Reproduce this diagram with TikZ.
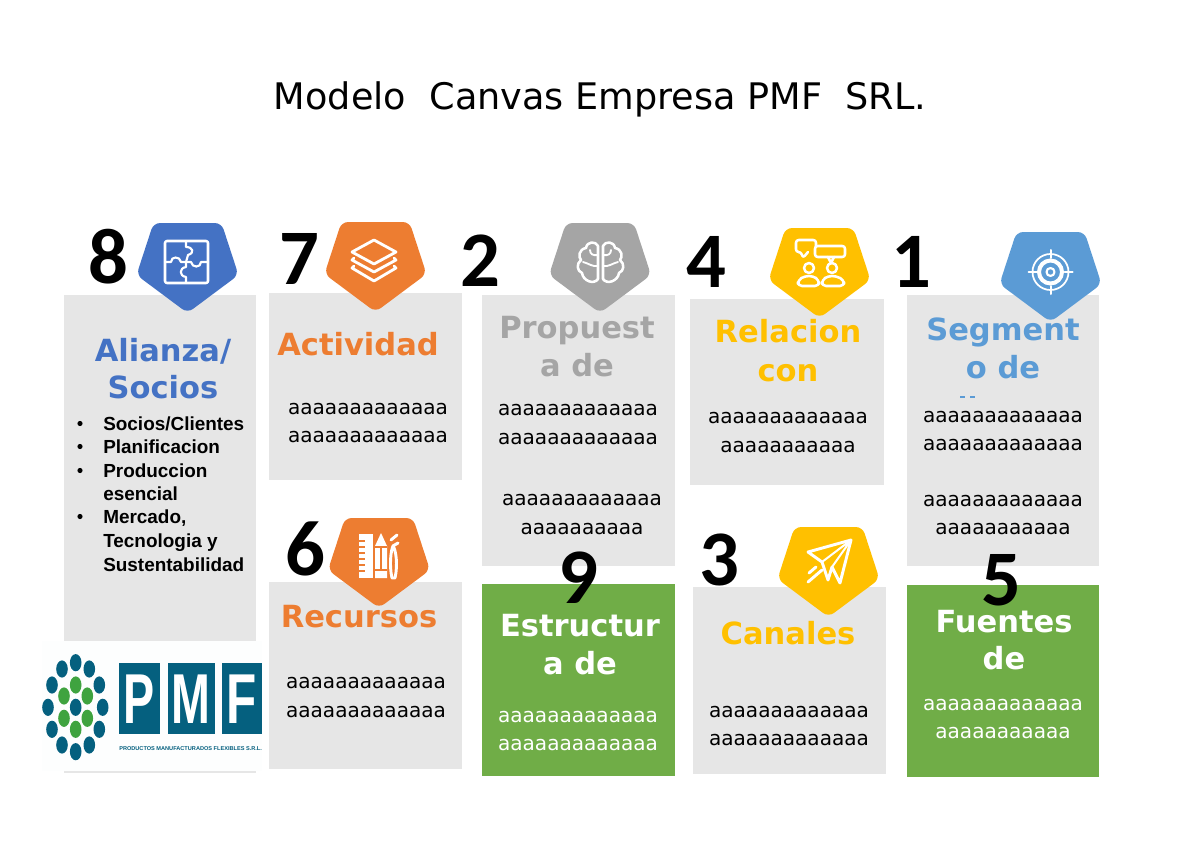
\documentclass[tikz,border=0pt]{standalone}
\usepackage{fontspec}
\setmainfont{DejaVu Sans}
\newfontfamily\numfont{Carlito}
\newfontfamily\arialfont{Liberation Sans}
\definecolor{cBlue}{HTML}{4472C4}
\definecolor{cOrange}{HTML}{ED7D31}
\definecolor{cGray}{HTML}{A5A5A5}
\definecolor{cYellow}{HTML}{FFC000}
\definecolor{cSky}{HTML}{5B9BD5}
\definecolor{cGreen}{HTML}{70AD47}
\definecolor{cBox}{HTML}{E6E6E6}
\definecolor{cLogo}{HTML}{05607F}
\definecolor{cLeaf}{HTML}{3FA33F}
\definecolor{cLogoBg}{HTML}{FDFEFE}
\tikzset{
  head/.style={anchor=base,inner sep=0pt,font=\fontsize{22.9}{26}\selectfont\bfseries},
  body/.style={anchor=base,inner sep=0pt,font=\fontsize{15.05}{18}\selectfont},
  num/.style={anchor=base,inner sep=0pt,font=\fontsize{59}{62}\selectfont\numfont\bfseries},
  bul/.style={anchor=base west,inner sep=0pt,font=\fontsize{14.2}{16}\selectfont\arialfont\bfseries},
  icon/.style={draw=white,line width=1.9pt,line cap=round,line join=round},
  logoletter/.style={anchor=base,inner sep=0pt,text=white,transform shape,font=\fontsize{53}{56}\selectfont\arialfont\bfseries},
}
\newcommand{\cellbox}[5]{\fill[#5] (#1,#2) rectangle (#3,#4);}
\newcommand{\penta}[3]{\fill[#3,rounded corners=5pt]
  ({#1-34},{#2+2}) -- ({#1+34},{#2+2}) -- ({#1+51},{#2+54}) -- (#1,{#2+92}) -- ({#1-51},{#2+54}) -- cycle;}
\newcommand{\dotblue}[2]{\fill[cLogo] (#1,#2) ellipse (5.8 and 8.6);}
\newcommand{\dotgreen}[2]{\fill[cLeaf] (#1,#2) ellipse (5.8 and 8.6);}
\begin{document}
\begin{tikzpicture}[x=0.75pt,y=-0.75pt]
\useasboundingbox (0,0) rectangle (1200,849);
\fill[white] (0,0) rectangle (1200,849);

\node[anchor=base,inner sep=0pt,font=\fontsize{27.45}{32}\selectfont] (title) at (600,109) {Modelo\ \ Canvas Empresa PMF\ \ SRL.};

% boxes
\cellbox{64}{295}{256}{641}{cBox}
\cellbox{269}{293}{462}{480}{cBox}
\cellbox{269}{582}{462}{769}{cBox}
\cellbox{482}{295}{675}{566}{cBox}
\cellbox{690}{299}{884}{485}{cBox}
\cellbox{907}{295}{1099}{566}{cBox}
\cellbox{482}{584}{675}{776}{cGreen}
\cellbox{693}{587}{886}{774}{cBox}
\cellbox{907}{585}{1099}{777}{cGreen}

% pentagons
\penta{187.5}{221}{cBlue}
\penta{375.5}{220}{cOrange}
\penta{600}{221}{cGray}
\penta{819.5}{226}{cYellow}
\penta{1050.5}{230}{cSky}
\penta{379}{516}{cOrange}
\penta{828.5}{525}{cYellow}

% puzzle icon
\draw[icon,rounded corners=1.5pt] (165,241) rectangle (208,283);
\draw[icon,line width=1.6pt] (186,241) -- (186,247) .. controls (193,247) and (195,253) .. (188,255) -- (186,262)
  -- (181,262) .. controls (180,256) and (171,256) .. (171,262) -- (165,262);
\draw[icon,line width=1.6pt] (186,262) -- (191,262) .. controls (192,268) and (201,268) .. (201,262) -- (208,262);
\draw[icon,line width=1.6pt] (186,262) -- (186,267) .. controls (179,268) and (179,276) .. (186,277) -- (186,283);

% layers icon
\draw[icon,line width=2.1pt] (374,240) -- (396,252) -- (374,264) -- (352,252) -- cycle;
\draw[icon,line width=2.1pt] (354,258) -- (352,260) -- (374,272) -- (396,260) -- (394,258);
\draw[icon,line width=2.1pt] (354,266) -- (352,268) -- (374,281) -- (396,268) -- (394,266);

% brain icon
\draw[icon] (598,246) .. controls (596,241) and (587,241) .. (586,248) .. controls (579,249) and (578,257) .. (581,260)
  .. controls (576,264) and (577,271) .. (582,273) .. controls (583,281) and (594,285) .. (598,279) -- cycle;
\draw[icon] (603,246) .. controls (605,241) and (614,241) .. (615,248) .. controls (622,249) and (623,257) .. (620,260)
  .. controls (625,264) and (624,271) .. (619,273) .. controls (618,281) and (607,285) .. (603,279) -- cycle;
\draw[icon,line width=1.4pt] (598,255) .. controls (593,256) and (590,254) .. (590,250);
\draw[icon,line width=1.4pt] (598,266) .. controls (592,267) and (588,263) .. (583,262);
\draw[icon,line width=1.4pt] (603,255) .. controls (608,256) and (611,254) .. (611,250);
\draw[icon,line width=1.4pt] (603,266) .. controls (609,267) and (613,263) .. (618,262);

% chat icon
\draw[icon,rounded corners=2pt] (816,252) -- (816,240) -- (796,240) -- (796,252) -- (801,252) -- (803,258) -- (808,252);
\draw[icon,rounded corners=2pt,fill=cYellow] (815,246) rectangle (845,257);
\draw[icon] (828,257) -- (831,263) -- (834,257);
\draw[icon] (809,268) circle (5);
\draw[icon] (832,268) circle (5);
\draw[icon,rounded corners=3pt] (798,286) -- (798,280) -- (805,276) -- (813,276) -- (819,280) -- (819,286) -- cycle;
\draw[icon,rounded corners=3pt] (822,286) -- (822,280) -- (828,276) -- (836,276) -- (844,280) -- (844,286) -- cycle;

% target icon
\draw[icon,line width=1.3pt] (1050.5,272) circle (18);
\draw[icon,line width=3pt] (1050.5,272) circle (11.5);
\draw[icon,line width=1.6pt] (1050.5,272) circle (4);
\draw[icon,line width=1.5pt] (1050.5,250) -- (1050.5,258) (1050.5,286) -- (1050.5,294) (1028.5,272) -- (1036.5,272) (1064.5,272) -- (1072.5,272);

% ruler / pencil icon
\fill[white] (359,534) rectangle (373,578);
\foreach \yy in {540,546,552,558,564,570}{\fill[cOrange] (359,\yy) rectangle (365,{\yy+2});}
\fill[white] (375,578) -- (375,546) -- (381,533) -- (387,546) -- (387,578) -- cycle;
\draw[cOrange,line width=.8pt] (375,547) -- (387,547) (375,570) -- (387,570) (381,548) -- (381,569);
\draw[icon,line width=2.2pt] (392,578) .. controls (389,565) and (391,550) .. (393,546) .. controls (396,550) and (398,565) .. (395,578) -- cycle;
\draw[icon,line width=2.2pt] (391,540) -- (397,535) (393,546) -- (398,543);

% plane icon
\draw[icon,line width=2.2pt] (851,540) -- (808,552) -- (822,562) -- (828,580) -- (832,567) -- (840,583) -- cycle;
\draw[icon,line width=1.5pt] (851,540) -- (822,562) (851,540) -- (832,567);
\draw[icon,line width=2.2pt] (809,573) -- (816,567) (808,582) -- (822,570);

% numbers
\node[num] (n8) at (108.5,283) {8};
\node[num] (n7) at (299,284) {7};
\node[num] (n2) at (480.5,286) {2};
\node[num] (n4) at (706,287) {4};
\node[num] (n1) at (911,287) {1};
\node[num] (n6) at (305,575) {6};
\node[num] (n3) at (719,585) {3};
\node[num] (n9) at (578,603) {9};
\node[num] (n5) at (1001,605) {5};

% headings
\node[head,text=cBlue] (h8a) at (163,361) {Alianza/};
\node[head,text=cBlue] (h8b) at (163,398) {Socios};
\node[head,text=cOrange] (h7) at (358,355) {Actividad};
\node[head,text=cOrange] (h6) at (359,627) {Recursos};
\node[head,text=cGray] (h2a) at (577,338) {Propuest};
\node[head,text=cGray] (h2b) at (577,376) {a de};
\node[head,text=cYellow] (h4a) at (788,342) {Relacion};
\node[head,text=cYellow] (h4b) at (788,381) {con};
\node[head,text=cSky] (h1a) at (1003,340) {Segment};
\node[head,text=cSky] (h1b) at (1003,378) {o de};
\draw[cSky,line width=1pt] (960,397) -- (965,397) (970,397) -- (975,397);
\node[head,text=white] (h9a) at (580,636) {Estructur};
\node[head,text=white] (h9b) at (580,674) {a de};
\node[head,text=cYellow] (h3) at (788,644) {Canales};
\node[head,text=white] (h5a) at (1004,632) {Fuentes};
\node[head,text=white] (h5b) at (1004,669) {de};

% bullet list
\foreach \yy in {430,453,477,523}{\fill[black] (80,{\yy-6.5}) circle (2.6);}
\node[bul] (l1) at (103,430) {Socios/Clientes};
\node[bul] (l2) at (103,453) {Planificacion};
\node[bul] (l3) at (103,477) {Produccion};
\node[bul] (l4) at (103,500) {esencial};
\node[bul] (l5) at (103,523) {Mercado,};
\node[bul] (l6) at (103,547) {Tecnologia y};
\node[bul] (l7) at (103,571) {Sustentabilidad};

% body text
\node[body] (t7a) at (368,414) {aaaaaaaaaaaaa};
\node[body] (t7b) at (368,442) {aaaaaaaaaaaaa};
\node[body] (t6a) at (366,688) {aaaaaaaaaaaaa};
\node[body] (t6b) at (366,717) {aaaaaaaaaaaaa};
\node[body] (t2a) at (578,415) {aaaaaaaaaaaaa};
\node[body] (t2b) at (578,444) {aaaaaaaaaaaaa};
\node[body] (t2c) at (582,505) {aaaaaaaaaaaaa};
\node[body] (t2d) at (582,534) {aaaaaaaaaa};
\node[body] (t4a) at (788,423) {aaaaaaaaaaaaa};
\node[body] (t4b) at (788,452) {aaaaaaaaaaa};
\node[body] (t1a) at (1003,422) {aaaaaaaaaaaaa};
\node[body] (t1b) at (1003,450) {aaaaaaaaaaaaa};
\node[body] (t1c) at (1003,506) {aaaaaaaaaaaaa};
\node[body] (t1d) at (1003,534) {aaaaaaaaaaa};
\node[body,text=white] (t9a) at (578,722) {aaaaaaaaaaaaa};
\node[body,text=white] (t9b) at (578,750) {aaaaaaaaaaaaa};
\node[body] (t3a) at (789,717) {aaaaaaaaaaaaa};
\node[body] (t3b) at (789,745) {aaaaaaaaaaaaa};
\node[body,text=white] (t5a) at (1003,710) {aaaaaaaaaaaaa};
\node[body,text=white] (t5b) at (1003,738) {aaaaaaaaaaa};

% logo
\fill[cLogoBg] (42,641) rectangle (262,771);
\draw[cBox,line width=.8pt] (64,772) -- (256,772);
\dotblue{75.7}{662.7}\dotblue{62}{669}\dotblue{89.3}{669}\dotblue{52}{685}\dotblue{99.3}{685}
\dotblue{48}{707.3}\dotblue{102.7}{707.3}\dotblue{52}{729.3}\dotblue{99.3}{729.3}\dotblue{62}{745}\dotblue{89.3}{745}\dotblue{75.7}{751.7}\dotblue{75.7}{707.3}
\dotgreen{75.7}{685}\dotgreen{64}{696}\dotgreen{87.3}{696}\dotgreen{64}{718.3}\dotgreen{87.3}{718.3}\dotgreen{75.7}{729.3}
\fill[cLogo] (119,663) rectangle (159.5,734);
\fill[cLogo] (167.5,663) rectangle (214.5,734);
\fill[cLogo] (221.5,663) rectangle (261.5,734);
\node[logoletter,xscale=.66] (lp) at (139.5,723) {P};
\node[logoletter,xscale=.66] (lm) at (191,723) {M};
\node[logoletter,xscale=.7] (lf) at (241.5,723) {F};
\node[anchor=base west,inner sep=0pt,text=cLogo,font=\fontsize{4.2}{5}\selectfont\arialfont\bfseries] (lt) at (119,750) {PRODUCTOS MANUFACTURADOS FLEXIBLES S.R.L.};
\end{tikzpicture}
\end{document}
